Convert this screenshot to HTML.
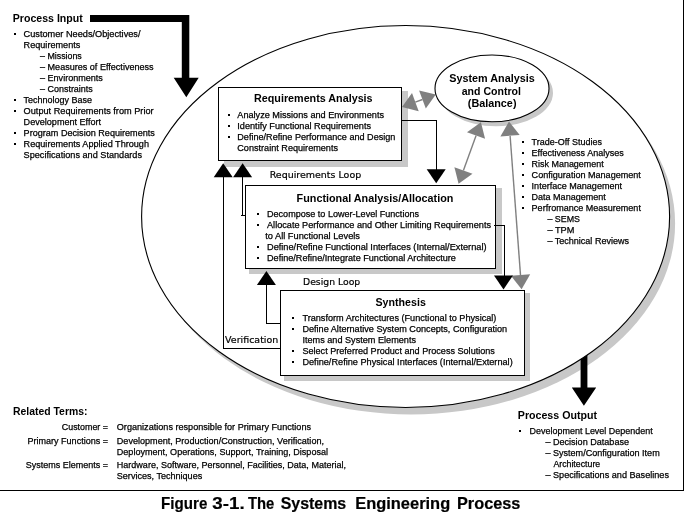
<!DOCTYPE html>
<html lang="en">
<head>
<meta charset="utf-8">
<title>Figure 3-1. The Systems Engineering Process</title>
<style>
html,body{margin:0;padding:0;background:#fff;}
body{width:684px;height:518px;overflow:hidden;}
svg{display:block;will-change:transform;}
text{font-family:"Liberation Sans",sans-serif;fill:#000;}
.t{font-size:9.2px;stroke:#000;stroke-width:0.25px;}
.b{font-size:11px;font-weight:bold;}
.w{font-family:"DejaVu Sans","Liberation Sans",sans-serif;font-size:9.5px;stroke:#000;stroke-width:0.2px;}
.cap{font-size:16.5px;font-weight:bold;stroke:#000;stroke-width:0.2px;}
.ln{stroke:#000;stroke-width:1;fill:none;shape-rendering:crispEdges;}
.box{stroke:#000;stroke-width:1;fill:#fff;shape-rendering:crispEdges;}
.sh{fill:#c8c8c8;shape-rendering:crispEdges;}
</style>
</head>
<body>
<svg width="684" height="518" viewBox="0 0 684 518">
<rect x="0" y="0" width="684" height="518" fill="#fff"/>
<line class="ln" x1="0" y1="490.5" x2="684" y2="490.5"/>
<line class="ln" x1="683.5" y1="0" x2="683.5" y2="491"/>
<ellipse cx="411.1" cy="223.5" rx="264" ry="191" fill="#c8c8c8"/>
<polygon points="580.6,340 587.4,340 587.4,387.6 596.2,387.6 583.9,405.8 571.8,387.6 580.6,387.6" fill="#000"/>
<ellipse cx="405.6" cy="216.5" rx="264" ry="191" fill="#fff" stroke="#000" stroke-width="1.1"/>
<polygon points="90,15 189.3,15 189.3,77.7 198.7,77.7 186.3,97.2 173.7,77.7 181.8,77.7 181.8,22 90,22" fill="#000"/>
<ellipse cx="496" cy="92.9" rx="57" ry="33.4" fill="#c8c8c8"/>
<rect class="sh" x="224" y="91" width="184" height="75.5"/>
<rect class="sh" x="249" y="188" width="252.5" height="85.6"/>
<rect class="sh" x="284" y="293" width="246" height="87.5"/>
<polygon points="402.0,107.0 412.0,93.0 418.7,111.2" fill="#808080"/>
<polygon points="435.8,94.6 425.8,108.6 419.1,90.4" fill="#808080"/>
<line x1="415.3" y1="102.1" x2="422.5" y2="99.5" stroke="#808080" stroke-width="1.4"/>
<polygon points="458.6,183.8 454.4,167.2 472.5,173.7" fill="#808080"/>
<polygon points="480.9,122.2 485.1,138.8 467.0,132.3" fill="#808080"/>
<line x1="463.4" y1="170.4" x2="476.1" y2="135.6" stroke="#808080" stroke-width="1.4"/>
<polygon points="521.6,289.2 510.9,275.8 530.2,274.3" fill="#808080"/>
<polygon points="509.0,121.5 519.7,134.9 500.4,136.4" fill="#808080"/>
<line x1="520.5" y1="275.0" x2="510.1" y2="135.7" stroke="#808080" stroke-width="1.4"/>
<ellipse cx="492" cy="88.4" rx="57" ry="33.4" fill="#fff" stroke="#000" stroke-width="1.1"/>
<polyline class="ln" points="402,120.5 436.5,120.5 436.5,170"/>
<polygon points="436.2,183.2 426.7,169.2 445.7,169.2" fill="#000"/>
<polyline class="ln" points="494,225.5 504.5,225.5 504.5,277"/>
<polygon points="503.5,289.4 494.0,275.4 513.0,275.4" fill="#000"/>
<polyline class="ln" points="280.5,348.5 223.5,348.5 223.5,176"/>
<polygon points="223.2,163.3 232.7,177.3 213.7,177.3" fill="#000"/>
<polyline class="ln" points="246,215.5 241,215.5"/>
<polyline class="ln" points="242.5,215.5 242.5,176"/>
<polygon points="242.6,163.3 252.1,177.3 233.1,177.3" fill="#000"/>
<polyline class="ln" points="280.5,323.5 266.5,323.5 266.5,284"/>
<polygon points="266.4,271.0 275.9,285.0 256.9,285.0" fill="#000"/>
<rect class="box" x="218.5" y="87.5" width="183" height="73"/>
<rect class="box" x="245.5" y="185.5" width="250" height="82.5"/>
<rect class="box" x="280.5" y="290.5" width="244" height="84.5"/>
<line class="ln" x1="494" y1="225.5" x2="497" y2="225.5"/>
<text class="b" x="12.8" y="22.0" textLength="70.0" lengthAdjust="spacingAndGlyphs">Process Input</text>
<rect x="14" y="33" width="2" height="2" fill="#000" shape-rendering="crispEdges"/>
<text class="t" x="23.6" y="37.0" textLength="116.9" lengthAdjust="spacingAndGlyphs">Customer Needs/Objectives/</text>
<text class="t" x="23.6" y="48.0" textLength="56.7" lengthAdjust="spacingAndGlyphs">Requirements</text>
<text class="t" x="40.0" y="59.0" textLength="41.8" lengthAdjust="spacingAndGlyphs">– Missions</text>
<text class="t" x="40.0" y="70.0" textLength="113.6" lengthAdjust="spacingAndGlyphs">– Measures of Effectiveness</text>
<text class="t" x="40.0" y="81.0" textLength="62.9" lengthAdjust="spacingAndGlyphs">– Environments</text>
<text class="t" x="40.0" y="92.0" textLength="52.8" lengthAdjust="spacingAndGlyphs">– Constraints</text>
<rect x="14" y="99" width="2" height="2" fill="#000" shape-rendering="crispEdges"/>
<text class="t" x="23.6" y="103.0" textLength="68.5" lengthAdjust="spacingAndGlyphs">Technology Base</text>
<rect x="14" y="110" width="2" height="2" fill="#000" shape-rendering="crispEdges"/>
<text class="t" x="23.6" y="114.0" textLength="130.0" lengthAdjust="spacingAndGlyphs">Output Requirements from Prior</text>
<text class="t" x="23.6" y="125.0" textLength="77.5" lengthAdjust="spacingAndGlyphs">Development Effort</text>
<rect x="14" y="132" width="2" height="2" fill="#000" shape-rendering="crispEdges"/>
<text class="t" x="23.6" y="136.0" textLength="131.2" lengthAdjust="spacingAndGlyphs">Program Decision Requirements</text>
<rect x="14" y="143" width="2" height="2" fill="#000" shape-rendering="crispEdges"/>
<text class="t" x="23.6" y="147.0" textLength="125.4" lengthAdjust="spacingAndGlyphs">Requirements Applied Through</text>
<text class="t" x="23.6" y="158.0" textLength="118.4" lengthAdjust="spacingAndGlyphs">Specifications and Standards</text>
<text class="b" x="254.0" y="102.3" textLength="118.6" lengthAdjust="spacingAndGlyphs">Requirements Analysis</text>
<rect x="228" y="114" width="2" height="2" fill="#000" shape-rendering="crispEdges"/>
<text class="t" x="237.3" y="117.8" textLength="146.7" lengthAdjust="spacingAndGlyphs">Analyze Missions and Environments</text>
<rect x="228" y="125" width="2" height="2" fill="#000" shape-rendering="crispEdges"/>
<text class="t" x="237.3" y="128.8" textLength="133.7" lengthAdjust="spacingAndGlyphs">Identify Functional Requirements</text>
<rect x="228" y="136" width="2" height="2" fill="#000" shape-rendering="crispEdges"/>
<text class="t" x="237.3" y="139.8" textLength="158.1" lengthAdjust="spacingAndGlyphs">Define/Refine Performance and Design</text>
<text class="t" x="237.3" y="150.8" textLength="100.7" lengthAdjust="spacingAndGlyphs">Constraint Requirements</text>
<text class="w" x="269.7" y="177.6" textLength="91.5" lengthAdjust="spacingAndGlyphs">Requirements Loop</text>
<text class="b" x="296.6" y="202.0" textLength="156.8" lengthAdjust="spacingAndGlyphs">Functional Analysis/Allocation</text>
<rect x="257" y="213" width="2" height="2" fill="#000" shape-rendering="crispEdges"/>
<text class="t" x="267.0" y="217.0" textLength="152.0" lengthAdjust="spacingAndGlyphs">Decompose to Lower-Level Functions</text>
<rect x="257" y="224" width="2" height="2" fill="#000" shape-rendering="crispEdges"/>
<text class="t" x="267.0" y="228.0" textLength="224.0" lengthAdjust="spacingAndGlyphs">Allocate Performance and Other Limiting Requirements</text>
<text class="t" x="265.2" y="239.0" textLength="94.8" lengthAdjust="spacingAndGlyphs">to All Functional Levels</text>
<rect x="257" y="246" width="2" height="2" fill="#000" shape-rendering="crispEdges"/>
<text class="t" x="267.0" y="250.0" textLength="219.5" lengthAdjust="spacingAndGlyphs">Define/Refine Functional Interfaces (Internal/External)</text>
<rect x="257" y="257" width="2" height="2" fill="#000" shape-rendering="crispEdges"/>
<text class="t" x="267.0" y="261.0" textLength="188.9" lengthAdjust="spacingAndGlyphs">Define/Refine/Integrate Functional Architecture</text>
<text class="w" x="303.0" y="285.0" textLength="57.2" lengthAdjust="spacingAndGlyphs">Design Loop</text>
<text class="b" x="375.5" y="305.7" textLength="50.3" lengthAdjust="spacingAndGlyphs">Synthesis</text>
<rect x="292" y="317" width="2" height="2" fill="#000" shape-rendering="crispEdges"/>
<text class="t" x="302.4" y="321.0" textLength="194.0" lengthAdjust="spacingAndGlyphs">Transform Architectures (Functional to Physical)</text>
<rect x="292" y="328" width="2" height="2" fill="#000" shape-rendering="crispEdges"/>
<text class="t" x="302.4" y="332.0" textLength="204.8" lengthAdjust="spacingAndGlyphs">Define Alternative System Concepts, Configuration</text>
<text class="t" x="302.4" y="343.0" textLength="113.6" lengthAdjust="spacingAndGlyphs">Items and System Elements</text>
<rect x="292" y="350" width="2" height="2" fill="#000" shape-rendering="crispEdges"/>
<text class="t" x="302.4" y="354.0" textLength="192.5" lengthAdjust="spacingAndGlyphs">Select Preferred Product and Process Solutions</text>
<rect x="292" y="361" width="2" height="2" fill="#000" shape-rendering="crispEdges"/>
<text class="t" x="302.4" y="365.0" textLength="210.3" lengthAdjust="spacingAndGlyphs">Define/Refine Physical Interfaces (Internal/External)</text>
<text class="w" x="225.1" y="343.0" textLength="53.2" lengthAdjust="spacingAndGlyphs">Verification</text>
<text class="b" x="449.2" y="81.8" textLength="85.5" lengthAdjust="spacingAndGlyphs">System Analysis</text>
<text class="b" x="461.7" y="94.8" textLength="59.2" lengthAdjust="spacingAndGlyphs">and Control</text>
<text class="b" x="467.8" y="107.3" textLength="48.7" lengthAdjust="spacingAndGlyphs">(Balance)</text>
<rect x="522" y="141" width="2" height="2" fill="#000" shape-rendering="crispEdges"/>
<text class="t" x="531.6" y="145.0" textLength="70.4" lengthAdjust="spacingAndGlyphs">Trade-Off Studies</text>
<rect x="522" y="152" width="2" height="2" fill="#000" shape-rendering="crispEdges"/>
<text class="t" x="531.6" y="156.0" textLength="92.2" lengthAdjust="spacingAndGlyphs">Effectiveness Analyses</text>
<rect x="522" y="163" width="2" height="2" fill="#000" shape-rendering="crispEdges"/>
<text class="t" x="531.6" y="167.0" textLength="72.1" lengthAdjust="spacingAndGlyphs">Risk Management</text>
<rect x="522" y="174" width="2" height="2" fill="#000" shape-rendering="crispEdges"/>
<text class="t" x="531.6" y="178.0" textLength="109.3" lengthAdjust="spacingAndGlyphs">Configuration Management</text>
<rect x="522" y="185" width="2" height="2" fill="#000" shape-rendering="crispEdges"/>
<text class="t" x="531.6" y="189.0" textLength="90.4" lengthAdjust="spacingAndGlyphs">Interface Management</text>
<rect x="522" y="196" width="2" height="2" fill="#000" shape-rendering="crispEdges"/>
<text class="t" x="531.6" y="200.0" textLength="74.1" lengthAdjust="spacingAndGlyphs">Data Management</text>
<rect x="522" y="207" width="2" height="2" fill="#000" shape-rendering="crispEdges"/>
<text class="t" x="531.6" y="211.0" textLength="109.3" lengthAdjust="spacingAndGlyphs">Perfromance Measurement</text>
<text class="t" x="547.4" y="222.0" textLength="32.6" lengthAdjust="spacingAndGlyphs">– SEMS</text>
<text class="t" x="547.4" y="233.0" textLength="26.9" lengthAdjust="spacingAndGlyphs">– TPM</text>
<text class="t" x="547.4" y="244.0" textLength="81.6" lengthAdjust="spacingAndGlyphs">– Technical Reviews</text>
<text class="b" x="517.8" y="418.5" textLength="79.2" lengthAdjust="spacingAndGlyphs">Process Output</text>
<rect x="519" y="430" width="2" height="2" fill="#000" shape-rendering="crispEdges"/>
<text class="t" x="529.6" y="434.0" textLength="123.1" lengthAdjust="spacingAndGlyphs">Development Level Dependent</text>
<text class="t" x="545.4" y="445.0" textLength="83.6" lengthAdjust="spacingAndGlyphs">– Decision Database</text>
<text class="t" x="545.4" y="456.0" textLength="114.3" lengthAdjust="spacingAndGlyphs">– System/Configuration Item</text>
<text class="t" x="553.4" y="467.0" textLength="46.8" lengthAdjust="spacingAndGlyphs">Architecture</text>
<text class="t" x="545.4" y="478.0" textLength="123.6" lengthAdjust="spacingAndGlyphs">– Specifications and Baselines</text>
<text class="b" x="13.0" y="414.5" textLength="74.5" lengthAdjust="spacingAndGlyphs">Related Terms:</text>
<text class="t" x="61.8" y="430.0" textLength="46.2" lengthAdjust="spacingAndGlyphs">Customer =</text>
<text class="t" x="27.5" y="444.0" textLength="80.5" lengthAdjust="spacingAndGlyphs">Primary Functions =</text>
<text class="t" x="25.8" y="468.0" textLength="82.2" lengthAdjust="spacingAndGlyphs">Systems Elements =</text>
<text class="t" x="116.8" y="430.0" textLength="194.2" lengthAdjust="spacingAndGlyphs">Organizations responsible for Primary Functions</text>
<text class="t" x="116.8" y="444.0" textLength="207.2" lengthAdjust="spacingAndGlyphs">Development, Production/Construction, Verification,</text>
<text class="t" x="116.8" y="455.0" textLength="211.2" lengthAdjust="spacingAndGlyphs">Deployment, Operations, Support, Training, Disposal</text>
<text class="t" x="116.8" y="468.0" textLength="229.2" lengthAdjust="spacingAndGlyphs">Hardware, Software, Personnel, Facilities, Data, Material,</text>
<text class="t" x="116.8" y="479.0" textLength="85.4" lengthAdjust="spacingAndGlyphs">Services, Techniques</text>
<text class="cap" y="509.2"><tspan x="161.1" textLength="46.2" lengthAdjust="spacingAndGlyphs">Figure</tspan> <tspan x="212.3" textLength="32.3" lengthAdjust="spacingAndGlyphs">3-1.</tspan> <tspan x="248" textLength="26.3" lengthAdjust="spacingAndGlyphs">The</tspan> <tspan x="280.7" textLength="65.5" lengthAdjust="spacingAndGlyphs">Systems</tspan> <tspan x="355.2" textLength="95.0" lengthAdjust="spacingAndGlyphs">Engineering</tspan> <tspan x="457" textLength="63.4" lengthAdjust="spacingAndGlyphs">Process</tspan></text>
</svg>
</body>
</html>
